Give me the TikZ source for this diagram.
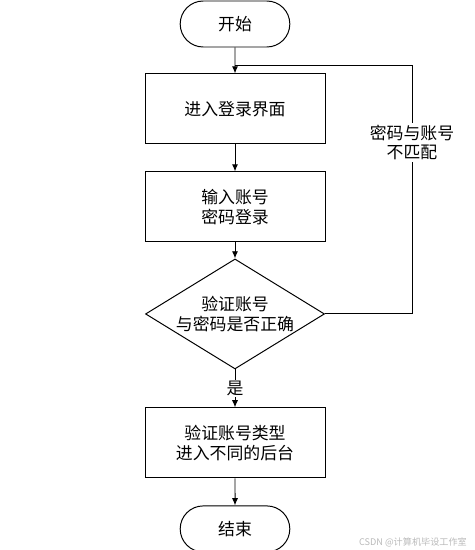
\documentclass[tikz,border=0pt]{standalone}
\usepackage{fontspec}
\setmainfont{Noto Sans CJK SC}
\usepackage{tikz}
\usetikzlibrary{arrows.meta,positioning,calc,shapes.geometric,shapes.misc}

\begin{document}
\begin{tikzpicture}[
  box/.style={draw, align=center, font=\fontsize{12}{14.2}\selectfont,
    minimum width=4.5cm, minimum height=1.75cm, fill=white},
  term/.style={box, rounded rectangle, minimum width=2.975cm, minimum height=1.15cm},
  dec/.style={box, diamond, aspect=1.63, inner sep=0pt,
    minimum width=4.475cm, minimum height=2.75cm},
  >={Latex[length=1.8mm,width=1.5mm]}, line width=0.7pt]
  \useasboundingbox (0,0) rectangle (11.85,-13.75);
  % main flow
  \node[term] (start) at (5.875,-0.6) {开始};
  \node[box, below=0.65cm of start] (login) {进入登录界面};
  \node[box, below=0.675cm of login] (input) {输入账号\\ 密码登录};
  \node[dec, below=0.4cm of input] (check) {验证账号\\ 与密码是否正确};
  \node[box, below=0.95cm of check] (route) {验证账号类型\\ 进入不同的后台};
  \node[term, below=0.675cm of route] (stop) {结束};
  \foreach \a/\b in {start/login,login/input,input/check,route/stop} \draw[->] (\a) -- (\b);
  \draw[->] (check) -- node[fill=white, inner sep=1pt, font=\fontsize{12}{14}\selectfont] {是} (route);
  % mismatch loop
  \coordinate (merge) at ($(start.south)!0.69!(login.north)$);
  \draw (check.east) -- ++(2.175,0) |- (merge)
    node[pos=0.345, fill=white, align=center, inner sep=1pt,
      font=\fontsize{12}{14.2}\selectfont] {密码与账号\\ 不匹配};
  \node[text=gray!55, font=\fontsize{6.5}{7}\selectfont, anchor=east] (mark)
    at (11.8,-13.55) {CSDN @计算机毕设工作室};
\end{tikzpicture}
\end{document}
